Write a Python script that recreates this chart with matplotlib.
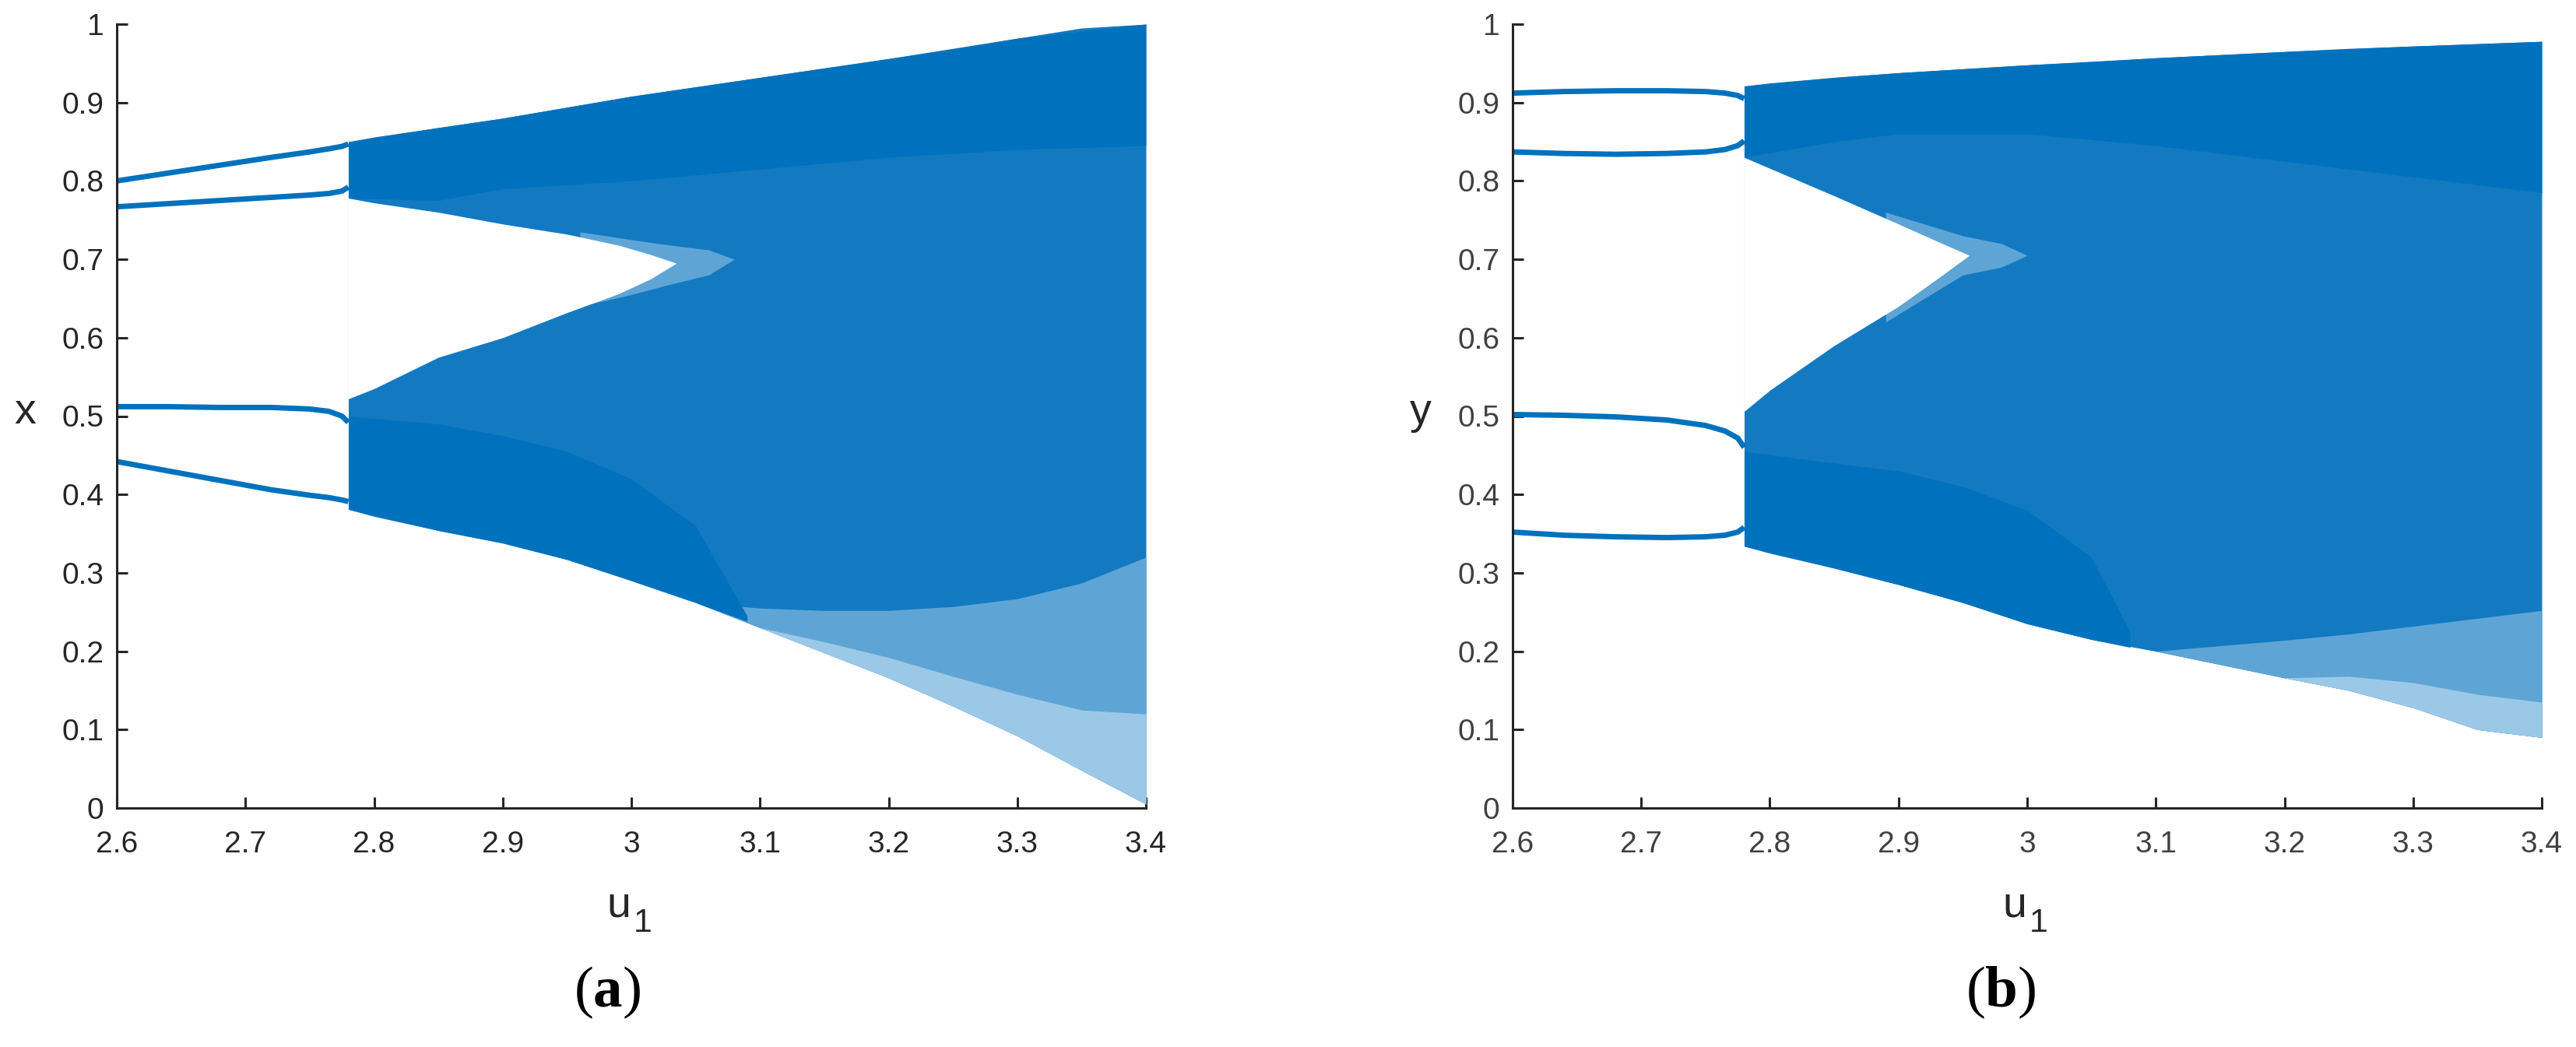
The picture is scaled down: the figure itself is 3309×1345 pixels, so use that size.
import matplotlib
matplotlib.use("Agg")
import matplotlib.pyplot as plt

# ---------------- data ----------------
BLUE = "#0072BD"
MED = "#137AC1"
SPARSE1 = "#5EA5D6"
SPARSE2 = "#9CC8E7"

# Panel (a): x vs u1
u_a_branch = [2.60, 2.64, 2.68, 2.72, 2.75, 2.765, 2.775, 2.78]
a_branch1 = [0.800, 0.810, 0.820, 0.830, 0.837, 0.841, 0.844, 0.847]
a_branch2 = [0.767, 0.771, 0.775, 0.779, 0.782, 0.784, 0.787, 0.792]
a_branch3 = [0.512, 0.512, 0.511, 0.511, 0.509, 0.506, 0.500, 0.492]
a_branch4 = [0.442, 0.430, 0.418, 0.406, 0.399, 0.396, 0.393, 0.391]

u_a_env = [2.78, 2.80, 2.85, 2.90, 2.95, 3.00, 3.05, 3.10, 3.15, 3.20, 3.25, 3.30, 3.35, 3.40]
a_env_top = [0.850, 0.856, 0.868, 0.880, 0.894, 0.908, 0.920, 0.932, 0.944, 0.956, 0.968, 0.982, 0.995, 1.000]
a_env_bot = [0.381, 0.372, 0.354, 0.338, 0.317, 0.290, 0.262, 0.230, 0.198, 0.166, 0.130, 0.092, 0.048, 0.005]

u_a_gap = [2.78, 2.80, 2.85, 2.90, 2.95, 2.99, 3.015, 3.035]
a_gap_top = [0.778, 0.772, 0.760, 0.745, 0.732, 0.718, 0.706, 0.695]
a_gap_bot = [0.522, 0.535, 0.575, 0.600, 0.632, 0.656, 0.675, 0.695]

u_a_tip = [2.96, 3.00, 3.03, 3.06, 3.08]
a_tip_top = [0.735, 0.725, 0.718, 0.712, 0.700]
a_tip_bot = [0.640, 0.655, 0.668, 0.680, 0.700]

u_a_dense_up = [2.78, 2.85, 2.90, 3.00, 3.10, 3.20, 3.30, 3.40]
a_dense_up_top = [0.850, 0.868, 0.880, 0.908, 0.932, 0.956, 0.982, 1.000]
a_dense_up_bot = [0.778, 0.775, 0.790, 0.800, 0.815, 0.830, 0.840, 0.845]

u_a_dense_lo = [2.78, 2.85, 2.90, 2.95, 3.00, 3.05, 3.09]
a_dense_lo_top = [0.500, 0.490, 0.475, 0.455, 0.420, 0.360, 0.245]
a_dense_lo_bot = [0.381, 0.354, 0.338, 0.317, 0.290, 0.262, 0.238]

u_a_sparse = [3.05, 3.10, 3.15, 3.20, 3.25, 3.30, 3.35, 3.40]
a_sparse_top = [0.262, 0.255, 0.252, 0.252, 0.257, 0.267, 0.287, 0.320]
a_sparse_bot = [0.262, 0.230, 0.198, 0.166, 0.130, 0.092, 0.048, 0.005]

u_a_sparse2 = [3.10, 3.15, 3.20, 3.25, 3.30, 3.35, 3.40]
a_sparse2_top = [0.230, 0.212, 0.192, 0.168, 0.145, 0.125, 0.120]
a_sparse2_bot = [0.230, 0.198, 0.166, 0.130, 0.092, 0.048, 0.005]

# Panel (b): y vs u1
u_b_branch = [2.60, 2.64, 2.68, 2.72, 2.75, 2.765, 2.775, 2.78]
b_branch1 = [0.912, 0.914, 0.915, 0.915, 0.914, 0.912, 0.909, 0.905]
b_branch2 = [0.837, 0.835, 0.834, 0.835, 0.837, 0.840, 0.845, 0.851]
b_branch3 = [0.502, 0.501, 0.499, 0.495, 0.488, 0.481, 0.472, 0.460]
b_branch4 = [0.352, 0.348, 0.346, 0.345, 0.346, 0.348, 0.352, 0.358]

u_b_env = [2.78, 2.80, 2.85, 2.90, 2.95, 3.00, 3.05, 3.10, 3.15, 3.20, 3.25, 3.30, 3.35, 3.40]
b_env_top = [0.921, 0.925, 0.932, 0.938, 0.943, 0.948, 0.952, 0.957, 0.961, 0.965, 0.969, 0.972, 0.975, 0.978]
b_env_bot = [0.334, 0.325, 0.306, 0.285, 0.262, 0.235, 0.215, 0.200, 0.183, 0.166, 0.150, 0.128, 0.100, 0.090]

u_b_gap = [2.78, 2.80, 2.85, 2.90, 2.93, 2.955]
b_gap_top = [0.830, 0.816, 0.781, 0.745, 0.723, 0.705]
b_gap_bot = [0.506, 0.533, 0.590, 0.640, 0.675, 0.705]

u_b_tip = [2.89, 2.92, 2.95, 2.98, 3.00]
b_tip_top = [0.760, 0.745, 0.730, 0.720, 0.705]
b_tip_bot = [0.620, 0.650, 0.680, 0.690, 0.705]

u_b_dense_up = [2.78, 2.85, 2.90, 3.00, 3.10, 3.20, 3.30, 3.40]
b_dense_up_top = [0.921, 0.932, 0.938, 0.948, 0.957, 0.965, 0.972, 0.978]
b_dense_up_bot = [0.830, 0.850, 0.860, 0.860, 0.845, 0.825, 0.805, 0.785]

u_b_dense_lo = [2.78, 2.85, 2.90, 2.95, 3.00, 3.05, 3.08]
b_dense_lo_top = [0.455, 0.440, 0.430, 0.410, 0.380, 0.320, 0.225]
b_dense_lo_bot = [0.334, 0.306, 0.285, 0.262, 0.235, 0.215, 0.205]

u_b_sparse = [3.10, 3.15, 3.20, 3.25, 3.30, 3.35, 3.40]
b_sparse_top = [0.200, 0.207, 0.214, 0.222, 0.232, 0.242, 0.252]
b_sparse_bot = [0.200, 0.183, 0.166, 0.150, 0.128, 0.100, 0.090]

u_b_sparse2 = [3.20, 3.25, 3.30, 3.35, 3.40]
b_sparse2_top = [0.166, 0.168, 0.160, 0.145, 0.135]
b_sparse2_bot = [0.166, 0.150, 0.128, 0.100, 0.090]

x_ticks = [2.6, 2.7, 2.8, 2.9, 3.0, 3.1, 3.2, 3.3, 3.4]
x_ticklabels = ["2.6", "2.7", "2.8", "2.9", "3", "3.1", "3.2", "3.3", "3.4"]
y_ticks = [0, 0.1, 0.2, 0.3, 0.4, 0.5, 0.6, 0.7, 0.8, 0.9, 1.0]
y_ticklabels = ["0", "0.1", "0.2", "0.3", "0.4", "0.5", "0.6", "0.7", "0.8", "0.9", "1"]

# ---------------- figure ----------------
plt.rcParams["mathtext.fontset"] = "custom"
plt.rcParams["mathtext.rm"] = "Liberation Serif"
plt.rcParams["mathtext.bf"] = "Liberation Serif:bold"

W, H = 3309, 1345
fig = plt.figure(figsize=(W / 100, H / 100), dpi=100)
fig.patch.set_facecolor("white")


def px_axes(left, top, right, bottom):
    return fig.add_axes([left / W, 1 - bottom / H, (right - left) / W, (bottom - top) / H])


def draw_panel(ax, branches, env, gap, tip, dense_up, dense_lo, sparse, sparse2, tickcol):
    u_env, e_top, e_bot = env
    ax.fill_between(u_env, e_bot, e_top, color=MED, lw=0, zorder=1)
    ax.fill_between(*sparse, color=SPARSE1, lw=0, zorder=2)
    ax.fill_between(*sparse2, color=SPARSE2, lw=0, zorder=2.5)
    ax.fill_between(dense_up[0], dense_up[2], dense_up[1], color=BLUE, lw=0, zorder=2)
    ax.fill_between(dense_lo[0], dense_lo[2], dense_lo[1], color=BLUE, lw=0, zorder=2)
    ax.fill_between(tip[0], tip[2], tip[1], color=SPARSE1, lw=0, zorder=3)
    ax.fill_between(gap[0], gap[2], gap[1], color="white", lw=0, zorder=4)
    u_br = branches[0]
    for b in branches[1:]:
        ax.plot(u_br, b, color=BLUE, lw=5, solid_capstyle="butt", zorder=5)

    ax.set_xlim(2.6, 3.4)
    ax.set_ylim(0, 1)
    for s in ("top", "right"):
        ax.spines[s].set_visible(False)
    for s in ("left", "bottom"):
        ax.spines[s].set_linewidth(2.2)
        ax.spines[s].set_color("#262626")
        ax.spines[s].set_zorder(6)
    ax.set_xticks(x_ticks)
    ax.set_xticklabels(x_ticklabels)
    ax.set_yticks(y_ticks)
    ax.set_yticklabels(y_ticklabels)
    ax.tick_params(direction="in", length=10, width=2.2, color="#262626",
                   labelsize=28, labelcolor=tickcol)
    ax.tick_params(axis="x", pad=21)
    ax.tick_params(axis="y", pad=12)
    for lab in ax.get_xticklabels() + ax.get_yticklabels():
        lab.set_family("Liberation Sans")


axa = px_axes(150, 31, 1472, 1038)
draw_panel(axa,
           [u_a_branch, a_branch1, a_branch2, a_branch3, a_branch4],
           (u_a_env, a_env_top, a_env_bot),
           (u_a_gap, a_gap_top, a_gap_bot),
           (u_a_tip, a_tip_top, a_tip_bot),
           (u_a_dense_up, a_dense_up_top, a_dense_up_bot),
           (u_a_dense_lo, a_dense_lo_top, a_dense_lo_bot),
           (u_a_sparse, a_sparse_bot, a_sparse_top),
           (u_a_sparse2, a_sparse2_bot, a_sparse2_top),
           "#262626")

axb = px_axes(1943, 31, 3265, 1038)
draw_panel(axb,
           [u_b_branch, b_branch1, b_branch2, b_branch3, b_branch4],
           (u_b_env, b_env_top, b_env_bot),
           (u_b_gap, b_gap_top, b_gap_bot),
           (u_b_tip, b_tip_top, b_tip_bot),
           (u_b_dense_up, b_dense_up_top, b_dense_up_bot),
           (u_b_dense_lo, b_dense_lo_top, b_dense_lo_bot),
           (u_b_sparse, b_sparse_bot, b_sparse_top),
           (u_b_sparse2, b_sparse2_bot, b_sparse2_top),
           "#404040")


def ftext(xp, yp, s, **kw):
    fig.text(xp / W, 1 - yp / H, s, ha="center", va="center", **kw)


LABC = "#262626"
# axis labels
ftext(32, 530, "x", fontsize=40, family="Liberation Sans", color=LABC)
ftext(1825, 530, "y", fontsize=40, family="Liberation Sans", color=LABC)
for cx in (811, 2604):
    ftext(cx - 16, 1163, "u", fontsize=40, family="Liberation Sans", color=LABC)
    ftext(cx + 15, 1186, "1", fontsize=31, family="Liberation Sans", color=LABC)

# panel labels
ftext(780, 1275, r"($\mathbf{a}$)", fontsize=54, family="Liberation Serif", color="black")
ftext(2570, 1275, r"($\mathbf{b}$)", fontsize=54, family="Liberation Serif", color="black")

fig.savefig("out.png", dpi=100, facecolor="white")
